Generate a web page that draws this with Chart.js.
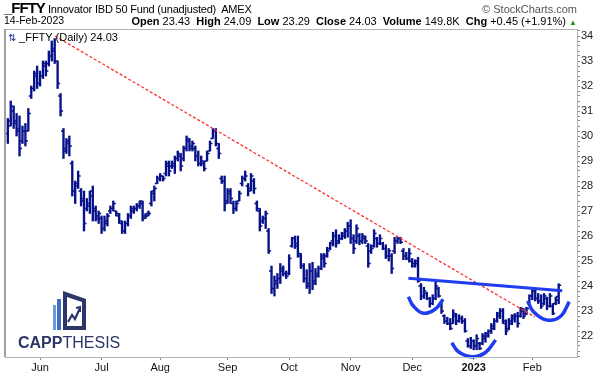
<!DOCTYPE html>
<html>
<head>
<meta charset="utf-8">
<script src="https://cdn.jsdelivr.net/npm/chart.js@4.4.0/dist/chart.umd.min.js"></script>
<style>
  html, body { margin: 0; padding: 0; background: #fff; }
  #wrap { position: relative; width: 597px; height: 373px; overflow: hidden; font-family: "Liberation Sans", Arial, sans-serif; }
  #chart { position: absolute; left: 0; top: 0; }
  .txt { position: absolute; white-space: nowrap; color: #000; line-height: 1.1; }
  #sym { left: 4px; top: 0px; font-size: 15px; font-weight: bold; letter-spacing: -1px; }
  #name { left: 48px; top: 3px; font-size: 11px; letter-spacing: -0.2px; }
  #copy { right: 20px; top: 3px; font-size: 11px; color: #555; }
  #date { left: 4px; top: 15px; font-size: 10.5px; }
  #quote { right: 20px; top: 15px; font-size: 11px; }
  #quote b { font-weight: bold; }
  #quote .up { color: #1a9a1a; font-size: 8px; }
  #plotlabel { left: 8px; top: 31px; font-size: 11px; }
  #plotlabel .ic { color: #1a2a8c; font-size: 10px; }
  #logo { position: absolute; left: 48px; top: 288px; }
  #brand { left: 18px; top: 334px; font-size: 16px; color: #2b3768; }
  #brand b { font-weight: bold; }
</style>
</head>
<body>
<div id="wrap">
  <canvas id="chart" width="597" height="373"></canvas>
  <div class="txt" id="sym">_FFTY</div>
  <div class="txt" id="name">Innovator IBD 50 Fund (unadjusted)&nbsp; AMEX</div>
  <div class="txt" id="copy">© StockCharts.com</div>
  <div class="txt" id="date">14-Feb-2023</div>
  <div class="txt" id="quote"><b>Open</b> 23.43 &nbsp;<b>High</b> 24.09 &nbsp;<b>Low</b> 23.29 &nbsp;<b>Close</b> 24.03 &nbsp;<b>Volume</b> 149.8K &nbsp;<b>Chg</b> +0.45 (+1.91%) <span class="up">▲</span></div>
  <div class="txt" id="plotlabel"><span class="ic">⇅</span> _FFTY (Daily) 24.03</div>
  <svg id="logo" width="42" height="44" viewBox="0 0 42 44">
    <rect x="5" y="17" width="3" height="25" fill="#6d9bd9"/>
    <rect x="9" y="11" width="4" height="31" fill="#3f6fc3"/>
    <polygon points="15,3 38,11 38,42 15,42" fill="#2b3768"/>
    <polygon points="19,9 34,14 34,38 19,38" fill="#fff"/>
    <polyline points="20,34 24,27 27,31 32,20" fill="none" stroke="#2b3768" stroke-width="2.2"/>
    <polyline points="28,20 32,19 32,24" fill="none" stroke="#2b3768" stroke-width="2"/>
  </svg>
  <div class="txt" id="brand"><b>CAPP</b>THESIS</div>
</div>
<script>
// daily bars, 16-May-2022 .. 14-Feb-2023 (index = trading day)
const highs = [
  30.7, 31.4, 31.2, 30.9, 30.8, 30.4, 30.5, 31.1, 32.0, 32.6,
  32.8, 32.6, 33.0, 33.0, 33.4, 33.8, 33.9, 33.0, 31.7, 30.3,
  29.9, 30.0, 29.0, 28.2, 28.6, 27.9, 27.8, 27.5, 27.8, 28.0,
  27.2, 27.0, 26.8, 26.8, 26.9, 27.2, 27.4, 27.0, 26.9, 26.6,
  26.6, 26.9, 27.2, 27.2, 27.3, 27.4, 27.4, 26.9, 27.0, 27.8,
  28.0, 28.4, 28.5, 28.4, 29.0, 29.0, 29.0, 29.2, 29.4, 29.3,
  29.6, 30.0, 29.9, 29.8, 29.6, 29.4, 29.2, 29.0, 29.4, 29.8,
  30.3, 30.3, 29.7, 28.4, 28.4, 27.9, 27.9, 27.4, 27.4, 27.8,
  28.4, 28.6, 28.1, 28.5, 28.3, 27.4, 27.1, 26.8, 27.0, 26.3,
  24.8, 24.4, 24.5, 24.9, 24.8, 24.6, 25.25, 25.95, 26.0, 26.0,
  25.3, 24.9, 24.65, 24.9, 24.95, 24.7, 24.8, 25.3, 25.3, 25.55,
  25.75, 26.15, 26.25, 26.05, 26.15, 26.3, 26.55, 26.65, 26.05, 26.45,
  26.1, 26.1, 26.0, 25.7, 25.65, 26.25, 25.95, 26.05, 25.75, 25.65,
  25.5, 25.3, 25.95, 25.95, 25.95, 25.5, 25.35, 25.5, 25.1, 25.05,
  25.15, 24.1, 23.95, 23.75, 23.55, 23.65, 24.25, 23.95, 23.4, 22.85,
  22.75, 22.7, 23.05, 22.9, 22.85, 22.8, 22.7, 21.9, 21.95, 21.85,
  22.05, 21.75, 22.1, 22.15, 22.25, 22.5, 22.7, 22.95, 23.1, 23.1,
  22.65, 22.7, 22.85, 22.9, 22.95, 23.15, 23.1, 23.15, 23.65, 23.9,
  23.9, 23.7, 23.65, 23.7, 23.55, 23.7, 23.3, 23.55, 24.09
];
const lows = [
  29.7, 30.4, 30.3, 30.0, 29.2, 29.7, 29.6, 30.2, 31.5, 31.8,
  31.9, 32.0, 32.3, 32.4, 32.8, 33.0, 32.9, 31.9, 30.8, 29.1,
  29.3, 29.2, 27.6, 27.3, 27.9, 27.2, 26.2, 27.0, 26.9, 26.6,
  26.6, 26.5, 26.1, 26.2, 26.4, 26.9, 27.0, 26.8, 26.5, 26.1,
  26.1, 26.4, 26.7, 26.9, 27.0, 27.1, 26.6, 26.7, 26.8, 27.2,
  27.4, 28.1, 28.2, 28.2, 28.4, 28.4, 28.7, 28.5, 29.0, 28.6,
  29.0, 29.4, 29.4, 29.4, 29.0, 28.8, 28.8, 28.6, 29.0, 29.4,
  29.9, 29.6, 29.1, 28.1, 27.0, 27.3, 27.3, 26.9, 27.0, 27.4,
  28.0, 28.2, 27.6, 27.8, 27.7, 27.0, 26.2, 26.5, 26.3, 25.3,
  23.7, 23.6, 23.9, 24.1, 24.4, 24.3, 24.45, 25.55, 25.5, 25.15,
  24.7, 24.15, 23.9, 23.7, 23.85, 24.05, 24.35, 24.65, 24.75, 25.15,
  25.45, 25.6, 25.55, 25.7, 25.85, 25.9, 25.95, 25.7, 25.3, 25.7,
  25.65, 25.7, 25.7, 24.75, 25.3, 25.55, 25.55, 25.65, 25.45, 25.1,
  25.0, 24.5, 25.3, 25.7, 25.7, 25.05, 25.05, 24.95, 24.75, 24.75,
  24.15, 23.45, 23.5, 23.45, 23.15, 23.25, 23.45, 23.55, 22.9, 22.5,
  22.45, 22.25, 22.5, 22.45, 22.55, 22.5, 22.15, 21.55, 21.5, 21.45,
  21.45, 21.45, 21.65, 21.75, 21.95, 22.1, 22.25, 22.55, 22.7, 22.5,
  22.05, 22.25, 22.45, 22.55, 22.35, 22.75, 22.7, 22.85, 23.3, 23.45,
  23.4, 23.3, 23.1, 23.25, 23.05, 23.15, 22.85, 23.25, 23.29
];
const opens = [
  30.1, 30.6, 31.0, 30.6, 30.3, 29.8, 30.2, 30.2, 31.6, 31.9,
  32.5, 32.1, 32.4, 32.8, 32.9, 33.2, 33.5, 33.0, 31.6, 30.2,
  29.5, 29.7, 28.9, 27.8, 28.1, 27.8, 27.5, 27.1, 27.2, 27.8,
  27.0, 26.7, 26.7, 26.3, 26.5, 27.0, 27.1, 27.0, 26.8, 26.5,
  26.2, 26.5, 26.8, 27.0, 27.1, 27.2, 27.3, 26.8, 26.9, 27.3,
  27.8, 28.1, 28.3, 28.4, 28.5, 28.8, 28.8, 28.8, 29.1, 29.2,
  29.1, 29.5, 29.8, 29.5, 29.5, 29.2, 28.9, 28.9, 29.0, 29.4,
  29.9, 30.2, 29.5, 28.3, 28.2, 27.4, 27.7, 27.3, 27.1, 27.4,
  28.1, 28.3, 28.0, 27.9, 28.2, 27.3, 27.0, 26.6, 26.7, 26.2,
  24.6, 23.9, 24.1, 24.3, 24.6, 24.5, 24.5, 25.6, 25.9, 25.7,
  25.2, 24.8, 24.3, 24.1, 24.6, 24.2, 24.4, 24.7, 25.1, 25.2,
  25.5, 25.8, 26.0, 25.8, 25.9, 26.0, 26.2, 26.4, 25.9, 25.8,
  26.0, 25.8, 25.9, 25.6, 25.4, 25.6, 25.9, 25.7, 25.7, 25.5,
  25.2, 25.2, 25.4, 25.8, 25.9, 25.4, 25.2, 25.1, 25.0, 24.9,
  25.0, 24.0, 23.6, 23.7, 23.5, 23.3, 23.5, 23.9, 23.3, 22.8,
  22.6, 22.5, 22.5, 22.8, 22.6, 22.7, 22.6, 21.8, 21.6, 21.8,
  21.6, 21.7, 21.7, 21.9, 22.0, 22.2, 22.3, 22.6, 22.8, 23.0,
  22.5, 22.3, 22.5, 22.7, 22.8, 22.8, 23.0, 22.9, 23.3, 23.6,
  23.8, 23.5, 23.4, 23.3, 23.5, 23.2, 23.2, 23.3, 23.43
];
const closes = [
  30.4, 31.2, 30.5, 30.2, 29.5, 30.2, 29.8, 30.9, 31.9, 32.4,
  32.1, 32.4, 32.9, 32.6, 33.2, 33.4, 33.0, 32.1, 31.0, 29.4,
  29.8, 29.6, 27.8, 28.0, 28.4, 27.4, 26.5, 27.3, 27.6, 27.1,
  26.8, 26.9, 26.3, 26.6, 26.8, 27.1, 27.3, 26.9, 26.6, 26.2,
  26.5, 26.8, 27.1, 27.1, 27.2, 27.4, 26.7, 26.8, 26.9, 27.7,
  27.9, 28.3, 28.4, 28.3, 28.9, 28.6, 28.9, 29.1, 29.3, 28.8,
  29.5, 29.9, 29.6, 29.7, 29.2, 28.9, 29.0, 28.7, 29.3, 29.7,
  30.2, 29.7, 29.3, 28.2, 27.3, 27.8, 27.5, 27.1, 27.3, 27.7,
  28.3, 28.4, 27.8, 28.4, 27.9, 27.1, 26.4, 26.7, 26.9, 25.4,
  23.9, 24.2, 24.3, 24.7, 24.5, 24.4, 25.1, 25.9, 25.6, 25.3,
  24.8, 24.3, 24.0, 24.6, 24.1, 24.5, 24.7, 25.2, 24.9, 25.4,
  25.7, 26.0, 25.7, 25.9, 26.1, 26.2, 26.4, 25.9, 25.5, 26.3,
  25.8, 26.0, 25.8, 24.9, 25.5, 26.1, 25.7, 25.9, 25.5, 25.2,
  25.4, 24.7, 25.8, 25.9, 25.75, 25.2, 25.1, 25.3, 24.8, 24.9,
  24.2, 23.6, 23.8, 23.5, 23.3, 23.5, 24.0, 23.6, 23.0, 22.6,
  22.5, 22.3, 22.9, 22.6, 22.7, 22.6, 22.2, 21.6, 21.8, 21.6,
  21.9, 21.5, 22.0, 22.1, 22.2, 22.4, 22.6, 22.9, 23.0, 22.6,
  22.2, 22.6, 22.8, 22.8, 22.5, 23.1, 22.8, 23.1, 23.6, 23.8,
  23.5, 23.4, 23.2, 23.6, 23.2, 23.6, 22.9, 23.58, 24.03
];

// first trading day of each month (bar index) and its axis label
const monthStarts = [11, 32, 52, 75, 96, 117, 138, 159, 179];
const monthLabels = ['Jun', 'Jul', 'Aug', 'Sep', 'Oct', 'Nov', 'Dec', '2023', 'Feb'];

// drawn annotations, in (bar index, price)
const trendX = [16.1, 179.9];
const trendY = [34.0, 22.76];
const neckX = [136.7, 189.2];
const neckY = [24.31, 23.81];
const leftArcX = [136.7, 138.4, 141.8, 145.8, 148.6];
const leftArcY = [23.57, 23.20, 22.91, 23.07, 23.47];
const headArcX = [151.5, 153.8, 158.3, 162.9, 166.5];
const headArcY = [21.73, 21.37, 21.17, 21.33, 21.84];
const rightArcX = [177.4, 179.4, 183.9, 188.5, 191.6];
const rightArcY = [23.41, 22.97, 22.64, 22.77, 23.37];

const BAR = '#06118a';
const BLUE = '#1f3cf0';

function pts(xs, ys) { return xs.map((x, i) => ({ x: x, y: ys[i] })); }

// open / close ticks on each bar + plot frame
const ohlcTicks = {
    id: 'ohlcTicks',
    afterDatasetDraw(chart, args) {
        if (args.index !== 0) return;
        const ctx = chart.ctx, x = chart.scales.x, y = chart.scales.y;
        ctx.save();
        ctx.strokeStyle = BAR;
        ctx.lineWidth = 1.4;
        ctx.beginPath();
        for (let i = 0; i < opens.length; i++) {
            const px = x.getPixelForValue(i);
            const po = y.getPixelForValue(opens[i]);
            const pc = y.getPixelForValue(closes[i]);
            ctx.moveTo(px - 2.5, po); ctx.lineTo(px, po);
            ctx.moveTo(px, pc); ctx.lineTo(px + 2.5, pc);
        }
        ctx.stroke();
        ctx.restore();
    },
    afterDraw(chart) {
        const a = chart.chartArea, ctx = chart.ctx;
        ctx.save();
        ctx.strokeStyle = '#b4b4b4';
        ctx.lineWidth = 1;
        ctx.strokeRect(a.left + 0.5, a.top + 0.5, a.right - a.left, a.bottom - a.top);
        ctx.strokeStyle = '#a0a0a0';
        ctx.lineWidth = 2;
        ctx.beginPath();
        ctx.moveTo(a.left, a.top); ctx.lineTo(a.left, a.bottom);
        ctx.stroke();
        ctx.restore();
    }
};

Chart.defaults.font.family = '"Liberation Sans", Arial, sans-serif';

new Chart(document.getElementById('chart'), {
    type: 'bar',
    data: {
        datasets: [{
            label: 'FFTY',
            data: highs.map((h, i) => ({ x: i, y: [lows[i], h] })),
            backgroundColor: BAR,
            borderWidth: 0,
            barThickness: 1.7,
            order: 5
        }, {
            type: 'line',
            data: pts(trendX, trendY),
            borderColor: '#ff3030',
            borderWidth: 1.3,
            borderDash: [3, 2],
            pointRadius: 0,
            order: 4
        }, {
            type: 'line',
            data: pts(neckX, neckY),
            borderColor: BLUE,
            borderWidth: 3,
            pointRadius: 0,
            order: 1
        }, {
            type: 'line',
            data: pts(leftArcX, leftArcY),
            borderColor: BLUE,
            borderWidth: 3.5,
            tension: 0.4,
            pointRadius: 0,
            clip: false,
            order: 1
        }, {
            type: 'line',
            data: pts(headArcX, headArcY),
            borderColor: BLUE,
            borderWidth: 3.5,
            tension: 0.4,
            pointRadius: 0,
            clip: false,
            order: 1
        }, {
            type: 'line',
            data: pts(rightArcX, rightArcY),
            borderColor: BLUE,
            borderWidth: 3.5,
            tension: 0.4,
            pointRadius: 0,
            clip: false,
            order: 1
        }]
    },
    options: {
        responsive: false,
        animation: false,
        devicePixelRatio: 1,
        layout: { padding: { top: 29, left: 5, right: 0, bottom: 0 } },
        plugins: { legend: { display: false }, tooltip: { enabled: false } },
        scales: {
            x: {
                type: 'linear',
                min: -0.96,
                max: 194.25,
                offset: false,
                grid: { offset: false, drawOnChartArea: false, tickLength: 3, color: '#888' },
                border: { display: false },
                afterBuildTicks: (s) => { s.ticks = monthStarts.map(v => ({ value: v })); },
                afterFit: (s) => { s.height = 16; },
                ticks: {
                    autoSkip: false,
                    maxRotation: 0,
                    padding: 1,
                    color: '#111',
                    font: (c) => ({ size: 11, weight: c.tick && c.tick.label === '2023' ? 'bold' : 'normal' }),
                    callback: (v) => monthLabels[monthStarts.indexOf(v)]
                }
            },
            y: {
                position: 'right',
                min: 21.16,
                max: 34.28,
                grid: { drawOnChartArea: false, tickLength: 3, color: '#888' },
                border: { display: false },
                afterBuildTicks: (s) => {
                    const t = [];
                    for (let k = 106; k <= 171; k++) t.push({ value: k / 5 });
                    s.ticks = t;
                },
                afterFit: (s) => { s.width = 20; },
                ticks: {
                    padding: 1,
                    color: '#222',
                    font: { size: 11 },
                    autoSkip: false,
                    callback: (v) => Math.abs(v - Math.round(v)) < 0.01 ? String(Math.round(v)) : ''
                }
            }
        }
    },
    plugins: [ohlcTicks]
});
</script>
</body>
</html>
